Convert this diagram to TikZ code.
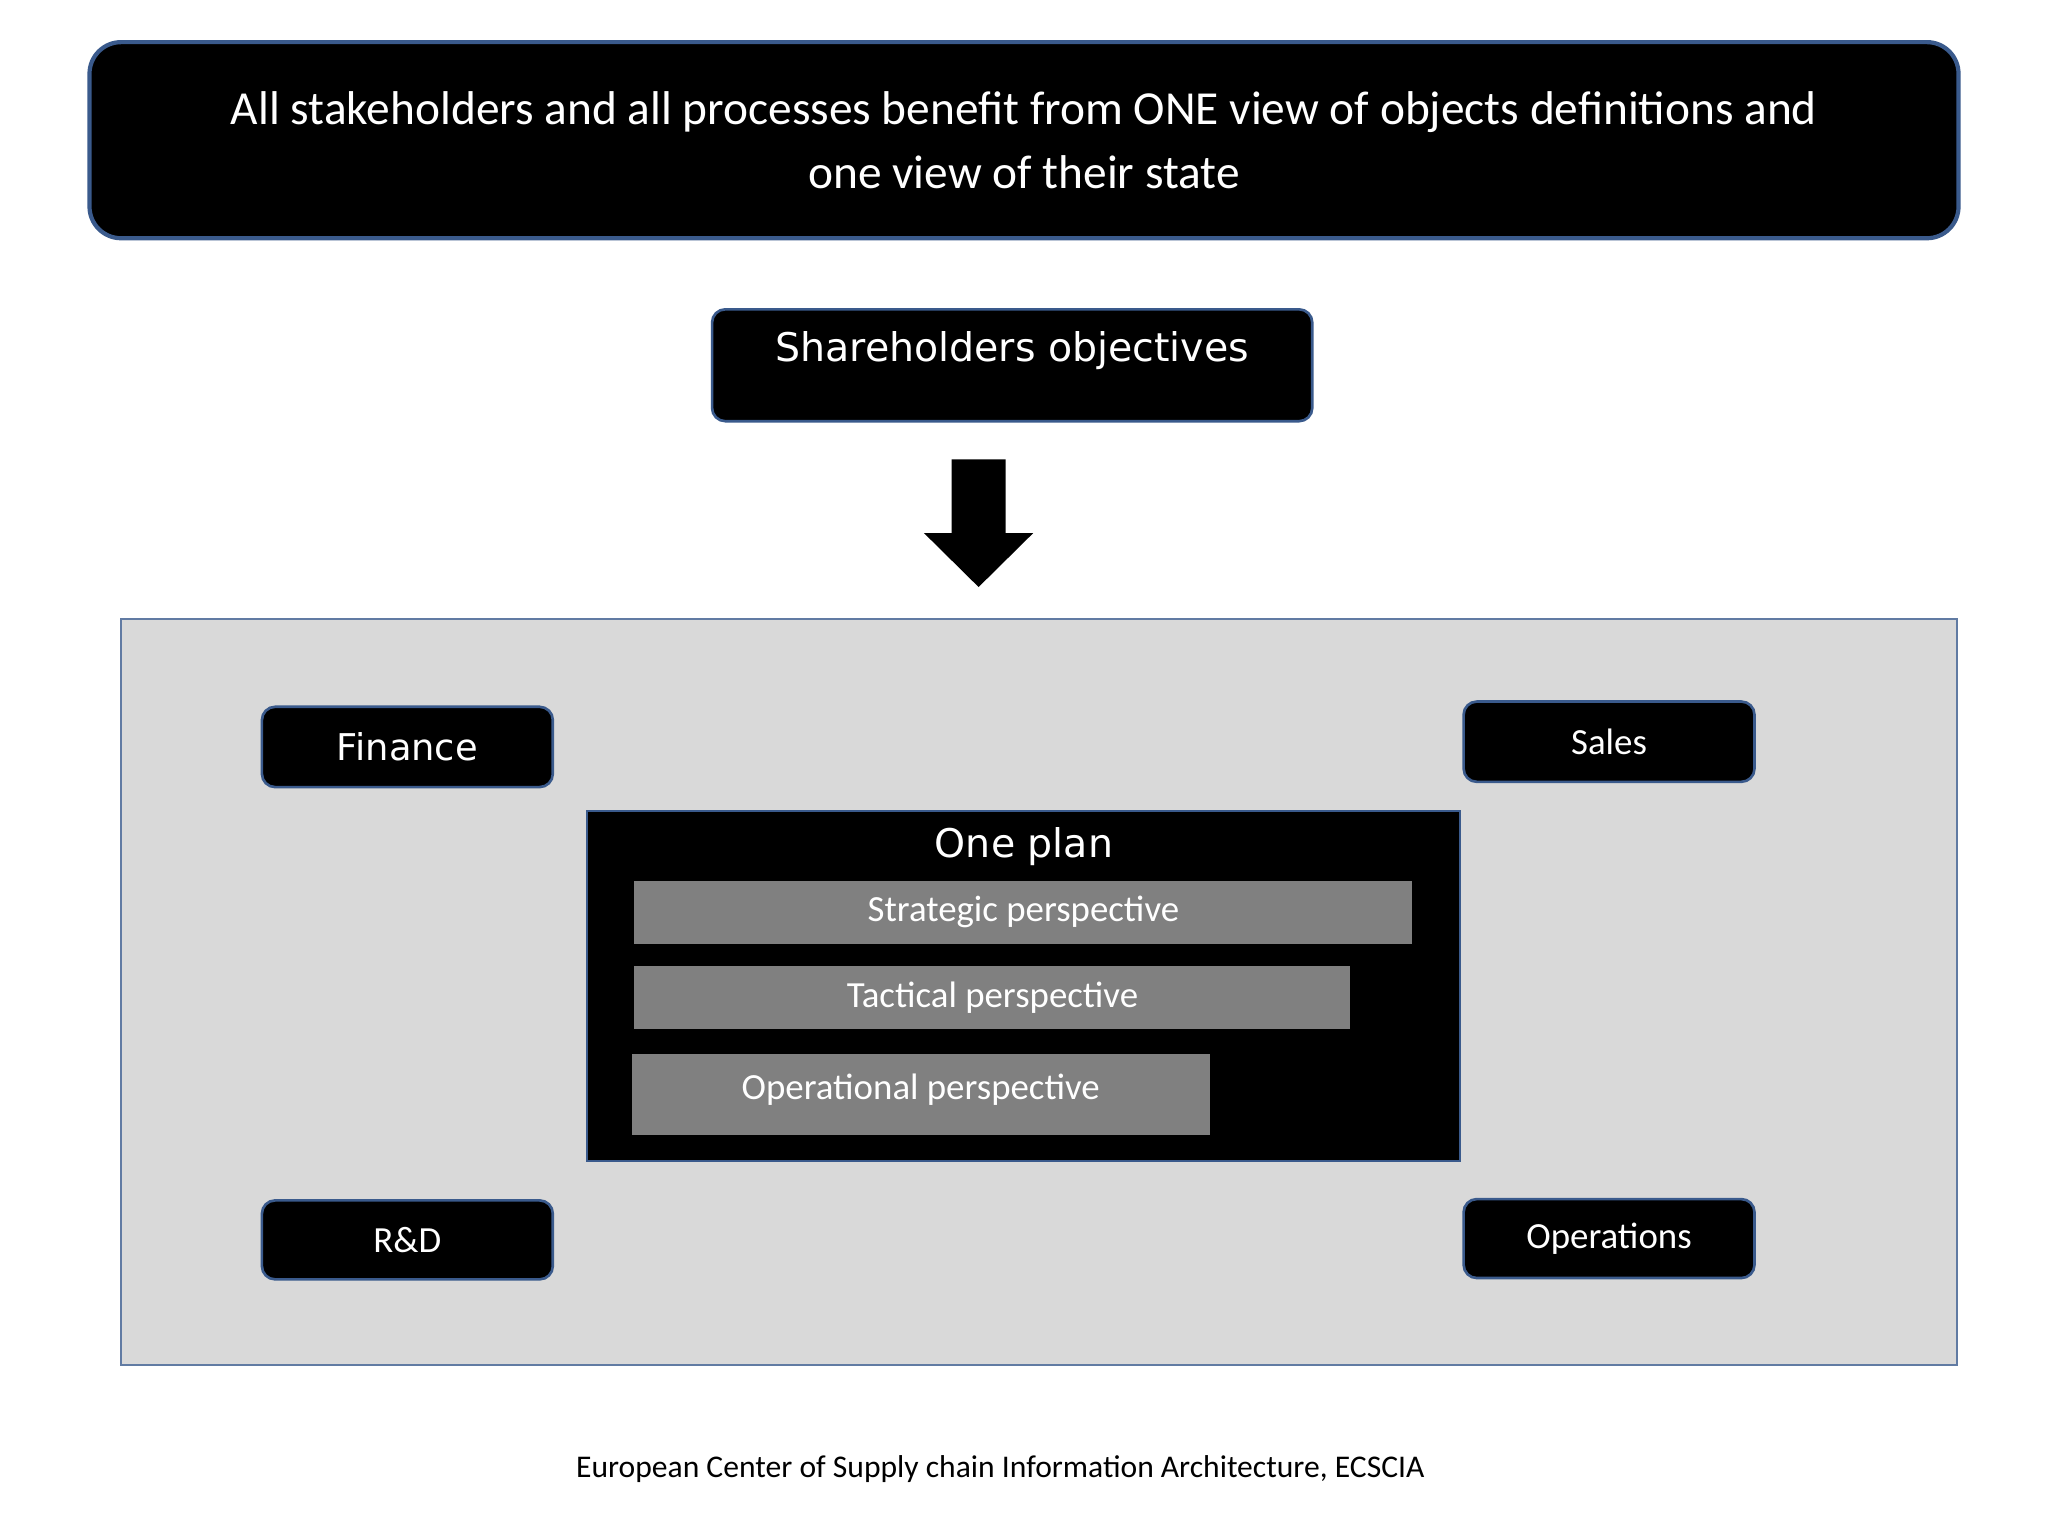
\documentclass[tikz,border=0pt]{standalone}
\usepackage{fontspec}
\setmainfont{Carlito}
\newfontfamily\dv{DejaVu Sans}
\definecolor{edge}{HTML}{3A5A8C}
\definecolor{panel}{HTML}{D9D9D9}
\definecolor{bar}{HTML}{808080}
\begin{document}
\begin{tikzpicture}[x=0.5pt,y=-0.5pt,
  blk/.style={fill=black,draw=edge,line width=1pt,rounded corners=5pt,text=white,inner sep=0pt},
  barbox/.style={fill=bar,text=white,inner sep=0pt,font=\fontsize{14}{16}\selectfont}]
\useasboundingbox (0,0) rectangle (1556,1168);
\fill[white] (0,0) rectangle (1556,1168);
\node[blk,line width=1.6pt,rounded corners=12pt,minimum width=710pt,minimum height=74.5pt,align=center,font=\fontsize{18}{24}\selectfont] (top) at (778,106.5) {All stakeholders and all processes benefit from ONE view of objects definitions and\\one view of their state};
\node[blk,minimum width=228pt,minimum height=42.5pt,font=\dv\fontsize{15}{18}\selectfont,text depth=14pt] (sh) at (769,277.5) {Shareholders objectives};
\fill[black] (723,349) -- (764,349) -- (764,405) -- (785,405) -- (743.5,446) -- (702,405) -- (723,405) -- cycle;
\node[fill=panel,draw=edge!80!white,line width=0.7pt,minimum width=697.5pt,minimum height=283.5pt,inner sep=0pt] (panel) at (789.5,753.5) {};
\node[blk,minimum width=110.5pt,minimum height=30.5pt,font=\dv\fontsize{14}{16}\selectfont] (fin) at (309.5,567.5) {Finance};
\node[blk,minimum width=110.5pt,minimum height=30.5pt,font=\fontsize{14}{16}\selectfont] (sales) at (1222.5,563.5) {Sales};
\node[blk,minimum width=110.5pt,minimum height=30pt,font=\fontsize{14}{16}\selectfont] (rd) at (309.5,942) {R\&D};
\node[blk,minimum width=110.5pt,minimum height=30pt,font=\fontsize{14}{16}\selectfont] (ops) at (1222.5,941) {Operations};
\node[fill=black,draw=edge,line width=0.7pt,minimum width=331.5pt,minimum height=133pt,inner sep=0pt] (plan) at (777.5,749) {};
\node[text=white,font=\dv\fontsize{15}{18}\selectfont] (pl) at (778,643) {One plan};
\node[barbox,minimum width=295.5pt,minimum height=24pt] (st) at (777.5,693) {Strategic perspective};
\node[barbox,minimum width=272pt,minimum height=24pt] (ta) at (754,758) {Tactical perspective};
\node[barbox,minimum width=219.5pt,minimum height=30.5pt] (op) at (699.5,831.5) {};
\node[text=white,font=\fontsize{14}{16}\selectfont] at (699.5,828) {Operational perspective};
\node[font=\fontsize{12}{14}\selectfont] (foot) at (760,1116) {European Center of Supply chain Information Architecture, ECSCIA};
\end{tikzpicture}
\end{document}
